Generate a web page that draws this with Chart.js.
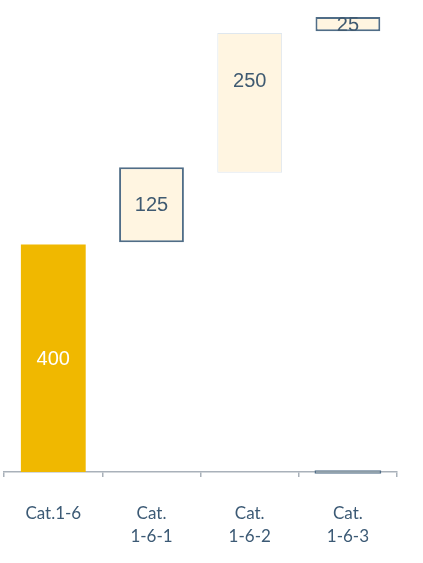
<!DOCTYPE html>
<html>
<head>
<meta charset="utf-8">
<script src="https://cdn.jsdelivr.net/npm/chart.js@4.4.1/dist/chart.umd.min.js"></script>
<style>
  html, body { margin: 0; padding: 0; background: #ffffff; }
  #wrap { width: 423px; height: 563px; position: relative; }
</style>
</head>
<body>
<div id="wrap"><canvas id="wfChart"></canvas></div>
<script>
// Dados (cascata)
const categories = [['Cat.1-6'], ['Cat.', '1-6-1'], ['Cat.', '1-6-2'], ['Cat.', '1-6-3']];
const barStart = [0, 404, 526, 775];
const barEnd = [400, 536, 772, 800];
const barLabels = ['400', '125', '250', '25'];
const stubStart = [null, null, null, -3];
const stubEnd = [null, null, null, 3];

const fills = ['#f0b800', '#fff5e1', '#fff5e1', '#fff5e1'];
const borders = ['#f0b800', '#506d87', '#dfe7ee', '#506d87'];
const borderWidths = [0, 2, 1, 2];
const labelColors = ['#ffffff', '#3f5a71', '#3f5a71', '#3f5a71'];
const labelShift = [1, 1, -21, 1];

// rótulos no centro das barras
const barLabelPlugin = {
  id: 'barLabels',
  afterDatasetsDraw(chart) {
    const ctx = chart.ctx;
    const meta = chart.getDatasetMeta(0);
    ctx.save();
    ctx.font = '20px "Liberation Sans", Arial, sans-serif';
    ctx.textAlign = 'center';
    ctx.textBaseline = 'middle';
    meta.data.forEach((bar, i) => {
      const p = bar.getProps(['x', 'y', 'base'], true);
      ctx.fillStyle = labelColors[i];
      ctx.fillText(barLabels[i], p.x, (p.y + p.base) / 2 + labelShift[i]);
    });
    ctx.restore();
  }
};

const ctx = document.getElementById('wfChart').getContext('2d');
new Chart(ctx, {
  type: 'bar',
  data: {
    labels: categories,
    datasets: [{
      data: barStart.map((s, i) => [s, barEnd[i]]),
      backgroundColor: fills,
      borderColor: borders,
      borderWidth: borderWidths,
      borderSkipped: false,
      grouped: false,
      clip: false,
      barPercentage: 0.66,
      categoryPercentage: 1
    }, {
      data: stubStart.map((s, i) => s === null ? null : [s, stubEnd[i]]),
      backgroundColor: '#fff5e1',
      borderColor: '#506d87',
      borderWidth: 1.5,
      borderSkipped: false,
      grouped: false,
      clip: false,
      barPercentage: 0.68,
      categoryPercentage: 1
    }]
  },
  options: {
    responsive: true,
    maintainAspectRatio: false,
    animation: false,
    layout: { padding: { top: 17, left: 3, right: 26, bottom: 0 } },
    plugins: {
      legend: { display: false },
      tooltip: { enabled: false }
    },
    scales: {
      y: {
        display: false,
        min: 0,
        max: 800
      },
      x: {
        afterFit(scale) { scale.height = 91; },
        grid: {
          offset: true,
          drawOnChartArea: false,
          drawTicks: true,
          tickLength: 5,
          color: '#a9b1ba',
          lineWidth: 1.5
        },
        border: { color: '#a9b1ba', width: 1.5 },
        ticks: {
          color: '#3c5a75',
          padding: 25,
          maxRotation: 0,
          font: { family: 'Lato, "Open Sans", sans-serif', size: 17, lineHeight: 1.35 }
        }
      }
    }
  },
  plugins: [barLabelPlugin]
});
</script>
</body>
</html>
